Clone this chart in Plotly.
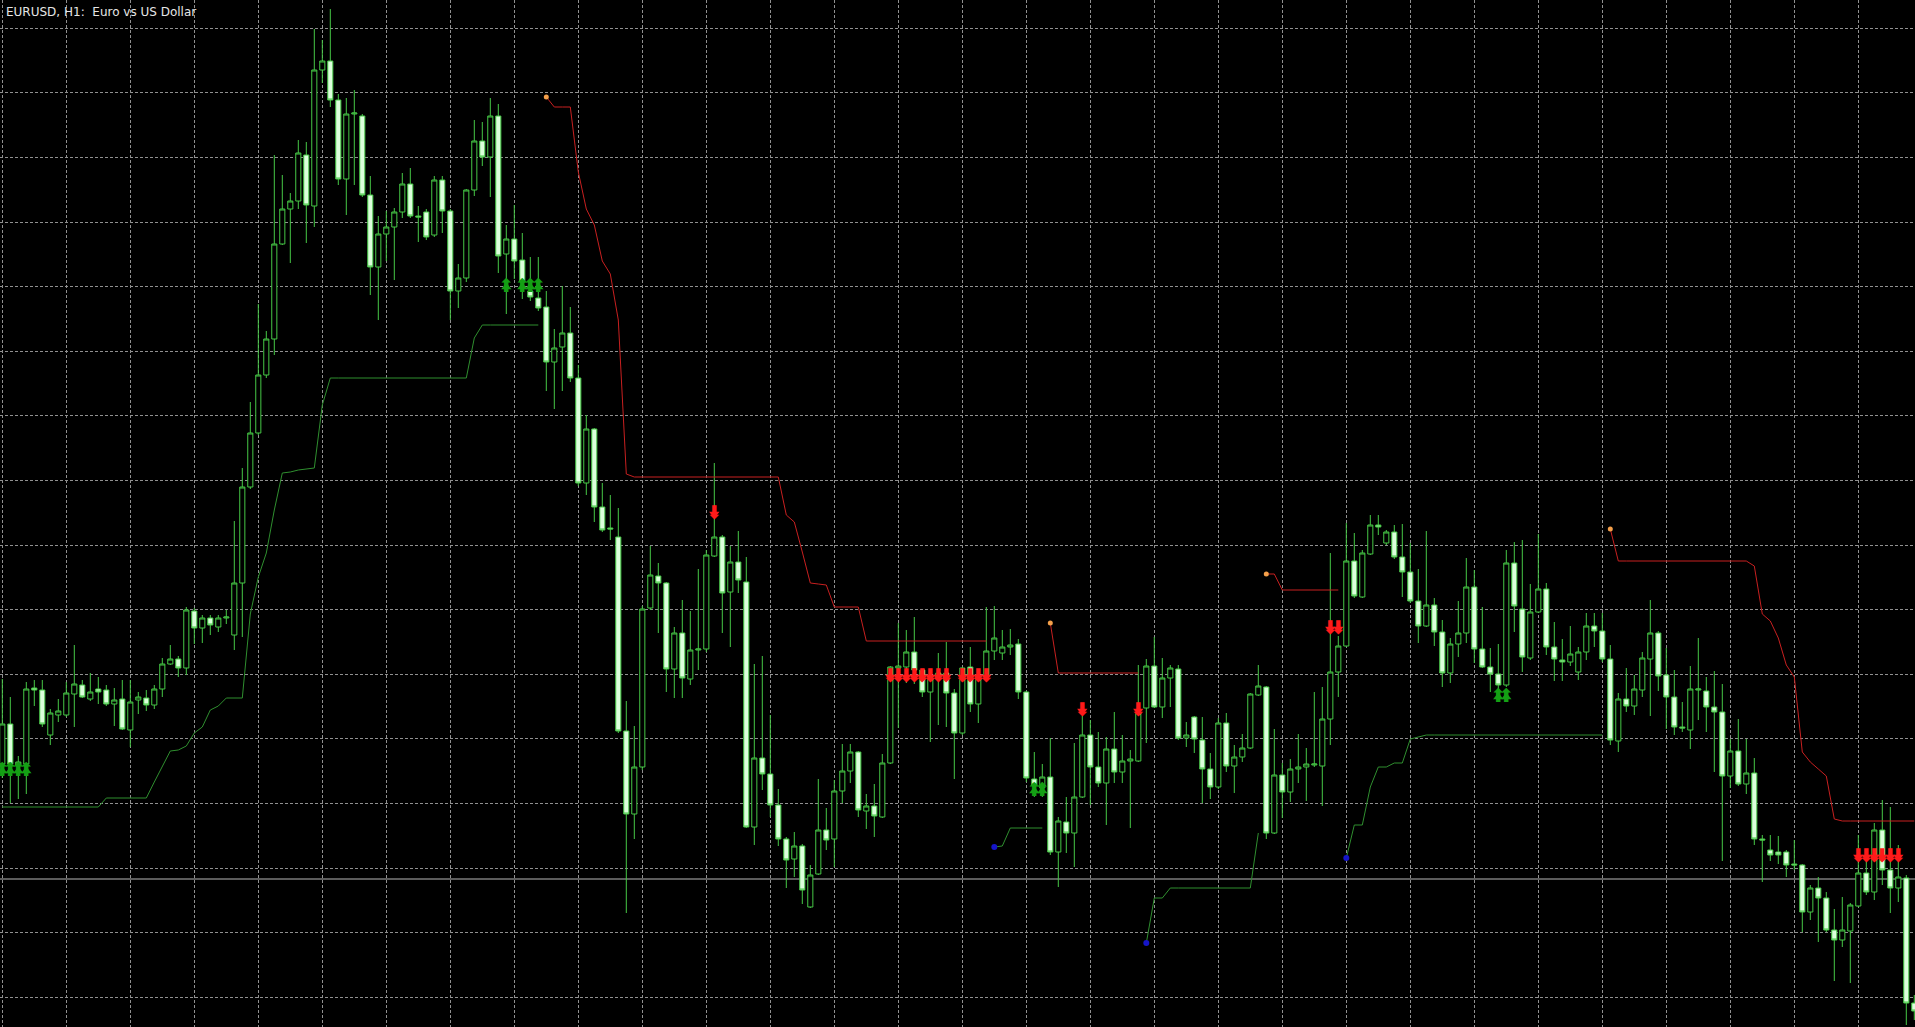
import plotly.graph_objects as go

# ---------------- data (EURUSD H1) ----------------
bars = list(range(240))

open_ = [
1.12236, 1.12276, 1.12235, 1.12236, 1.12312, 1.12310, 1.12265, 1.12285, 1.12285, 1.12306,
1.12315, 1.12301, 1.12311, 1.12310, 1.12296, 1.12301, 1.12270, 1.12300, 1.12302, 1.12295,
1.12311, 1.12336, 1.12341, 1.12332, 1.12389, 1.12372, 1.12382, 1.12373, 1.12382, 1.12365,
1.12417, 1.12513, 1.12567, 1.12625, 1.12661, 1.12756, 1.12791, 1.12799, 1.12845, 1.12794,
1.12930, 1.12939, 1.12900, 1.12821, 1.12886, 1.12884, 1.12805, 1.12733, 1.12766, 1.12773,
1.12788, 1.12816, 1.12784, 1.12788, 1.12765, 1.12820, 1.12789, 1.12709, 1.12722, 1.12810,
1.12859, 1.12843, 1.12884, 1.12746, 1.12761, 1.12740, 1.12709, 1.12702, 1.12693, 1.12638,
1.12653, 1.12667, 1.12622, 1.12517, 1.12571, 1.12493, 1.12472, 1.12463, 1.12269, 1.12186,
1.12233, 1.12392, 1.12424, 1.12417, 1.12331, 1.12367, 1.12321, 1.12350, 1.12351, 1.12444,
1.12463, 1.12408, 1.12438, 1.12418, 1.12173, 1.12242, 1.12226, 1.12195, 1.12161, 1.12141,
1.12154, 1.12093, 1.12126, 1.12170, 1.12161, 1.12209, 1.12229, 1.12248, 1.12189, 1.12194,
1.12183, 1.12237, 1.12332, 1.12333, 1.12348, 1.12330, 1.12308, 1.12322, 1.12327, 1.12307,
1.12267, 1.12333, 1.12296, 1.12323, 1.12349, 1.12347, 1.12353, 1.12356, 1.12308, 1.12221,
1.12212, 1.12223, 1.12148, 1.12178, 1.12167, 1.12203, 1.12265, 1.12233, 1.12217, 1.12251,
1.12228, 1.12239, 1.12239, 1.12292, 1.12334, 1.12293, 1.12322, 1.12331, 1.12262, 1.12283,
1.12260, 1.12231, 1.12213, 1.12277, 1.12234, 1.12243, 1.12252, 1.12305, 1.12313, 1.12167,
1.12225, 1.12208, 1.12231, 1.12233, 1.12235, 1.12234, 1.12281, 1.12328, 1.12354, 1.12439,
1.12403, 1.12446, 1.12475, 1.12457, 1.12468, 1.12443, 1.12428, 1.12399, 1.12374, 1.12395,
1.12368, 1.12327, 1.12356, 1.12367, 1.12413, 1.12351, 1.12333, 1.12326, 1.12315, 1.12437,
1.12391, 1.12342, 1.12388, 1.12411, 1.12353, 1.12340, 1.12338, 1.12328, 1.12348, 1.12374,
1.12369, 1.12341, 1.12259, 1.12301, 1.12294, 1.12310, 1.12341, 1.12367, 1.12325, 1.12303,
1.12273, 1.12270, 1.12310, 1.12309, 1.12293, 1.12288, 1.12224, 1.12249, 1.12216, 1.12227,
1.12161, 1.12150, 1.12148, 1.12148, 1.12136, 1.12135, 1.12088, 1.12112, 1.12102, 1.12070,
1.12060, 1.12069, 1.12094, 1.12127, 1.12108, 1.12170, 1.12130, 1.12112, 1.12122, 1.11997]

high = [
1.12321, 1.12303, 1.12244, 1.12318, 1.12320, 1.12320, 1.12291, 1.12301, 1.12318, 1.12355,
1.12320, 1.12327, 1.12323, 1.12315, 1.12312, 1.12320, 1.12320, 1.12308, 1.12310, 1.12315,
1.12342, 1.12355, 1.12344, 1.12393, 1.12392, 1.12385, 1.12385, 1.12385, 1.12390, 1.12479,
1.12532, 1.12598, 1.12696, 1.12669, 1.12845, 1.12825, 1.12807, 1.12860, 1.12858, 1.12971,
1.12960, 1.12991, 1.12906, 1.12902, 1.12910, 1.12886, 1.12824, 1.12784, 1.12789, 1.12792,
1.12827, 1.12832, 1.12794, 1.12791, 1.12824, 1.12824, 1.12791, 1.12736, 1.12811, 1.12880,
1.12878, 1.12902, 1.12896, 1.12775, 1.12795, 1.12767, 1.12743, 1.12743, 1.12709, 1.12671,
1.12714, 1.12693, 1.12635, 1.12585, 1.12572, 1.12517, 1.12505, 1.12492, 1.12299, 1.12274,
1.12394, 1.12454, 1.12437, 1.12418, 1.12373, 1.12400, 1.12389, 1.12431, 1.12450, 1.12537,
1.12465, 1.12454, 1.12469, 1.12443, 1.12336, 1.12344, 1.12285, 1.12211, 1.12163, 1.12168,
1.12156, 1.12135, 1.12221, 1.12192, 1.12220, 1.12256, 1.12256, 1.12249, 1.12206, 1.12216,
1.12246, 1.12334, 1.12377, 1.12370, 1.12383, 1.12331, 1.12330, 1.12347, 1.12358, 1.12311,
1.12333, 1.12353, 1.12328, 1.12393, 1.12394, 1.12370, 1.12371, 1.12361, 1.12309, 1.12248,
1.12236, 1.12262, 1.12183, 1.12203, 1.12257, 1.12284, 1.12280, 1.12268, 1.12263, 1.12288,
1.12265, 1.12250, 1.12335, 1.12341, 1.12363, 1.12342, 1.12335, 1.12335, 1.12278, 1.12284,
1.12283, 1.12247, 1.12282, 1.12287, 1.12255, 1.12266, 1.12307, 1.12335, 1.12314, 1.12271,
1.12237, 1.12241, 1.12266, 1.12252, 1.12308, 1.12313, 1.12447, 1.12364, 1.12477, 1.12467,
1.12450, 1.12485, 1.12485, 1.12470, 1.12475, 1.12476, 1.12457, 1.12431, 1.12469, 1.12402,
1.12380, 1.12362, 1.12399, 1.12442, 1.12430, 1.12393, 1.12352, 1.12356, 1.12450, 1.12458,
1.12460, 1.12416, 1.12466, 1.12417, 1.12378, 1.12361, 1.12374, 1.12353, 1.12387, 1.12387,
1.12387, 1.12355, 1.12307, 1.12332, 1.12325, 1.12348, 1.12400, 1.12369, 1.12352, 1.12330,
1.12298, 1.12334, 1.12362, 1.12323, 1.12329, 1.12316, 1.12261, 1.12281, 1.12261, 1.12242,
1.12165, 1.12165, 1.12164, 1.12150, 1.12160, 1.12136, 1.12115, 1.12123, 1.12108, 1.12091,
1.12103, 1.12097, 1.12165, 1.12142, 1.12177, 1.12200, 1.12193, 1.12155, 1.12125, 1.12005]

low = [
1.12222, 1.12197, 1.12201, 1.12206, 1.12294, 1.12273, 1.12255, 1.12278, 1.12283, 1.12273,
1.12302, 1.12299, 1.12296, 1.12294, 1.12274, 1.12270, 1.12253, 1.12286, 1.12289, 1.12291,
1.12303, 1.12335, 1.12323, 1.12325, 1.12356, 1.12357, 1.12365, 1.12368, 1.12376, 1.12350,
1.12363, 1.12511, 1.12565, 1.12622, 1.12645, 1.12755, 1.12737, 1.12791, 1.12757, 1.12773,
1.12917, 1.12893, 1.12815, 1.12785, 1.12815, 1.12803, 1.12705, 1.12680, 1.12739, 1.12720,
1.12782, 1.12782, 1.12758, 1.12760, 1.12763, 1.12767, 1.12680, 1.12692, 1.12718, 1.12804,
1.12834, 1.12803, 1.12727, 1.12686, 1.12721, 1.12701, 1.12699, 1.12689, 1.12609, 1.12591,
1.12609, 1.12618, 1.12514, 1.12505, 1.12478, 1.12468, 1.12460, 1.12267, 1.12087, 1.12161,
1.12230, 1.12390, 1.12367, 1.12308, 1.12302, 1.12302, 1.12315, 1.12330, 1.12348, 1.12443,
1.12367, 1.12353, 1.12407, 1.12172, 1.12155, 1.12210, 1.12183, 1.12154, 1.12112, 1.12123,
1.12096, 1.12092, 1.12125, 1.12150, 1.12133, 1.12197, 1.12217, 1.12183, 1.12171, 1.12163,
1.12182, 1.12236, 1.12272, 1.12317, 1.12316, 1.12303, 1.12258, 1.12275, 1.12273, 1.12221,
1.12265, 1.12288, 1.12277, 1.12322, 1.12340, 1.12340, 1.12345, 1.12301, 1.12218, 1.12203,
1.12203, 1.12145, 1.12113, 1.12147, 1.12133, 1.12202, 1.12195, 1.12213, 1.12175, 1.12217,
1.12217, 1.12172, 1.12238, 1.12257, 1.12292, 1.12282, 1.12293, 1.12260, 1.12253, 1.12247,
1.12197, 1.12201, 1.12211, 1.12228, 1.12207, 1.12238, 1.12251, 1.12304, 1.12161, 1.12166,
1.12182, 1.12198, 1.12217, 1.12199, 1.12233, 1.12194, 1.12255, 1.12303, 1.12353, 1.12402,
1.12402, 1.12445, 1.12465, 1.12455, 1.12441, 1.12403, 1.12397, 1.12357, 1.12373, 1.12354,
1.12313, 1.12317, 1.12343, 1.12357, 1.12337, 1.12332, 1.12308, 1.12305, 1.12313, 1.12368,
1.12328, 1.12340, 1.12387, 1.12345, 1.12319, 1.12319, 1.12334, 1.12320, 1.12340, 1.12353,
1.12338, 1.12255, 1.12248, 1.12288, 1.12285, 1.12303, 1.12284, 1.12309, 1.12271, 1.12265,
1.12268, 1.12251, 1.12280, 1.12268, 1.12228, 1.12139, 1.12212, 1.12214, 1.12206, 1.12155,
1.12118, 1.12139, 1.12136, 1.12123, 1.12130, 1.12068, 1.12080, 1.12058, 1.12068, 1.12019,
1.12053, 1.12017, 1.12093, 1.12105, 1.12100, 1.12115, 1.12087, 1.12098, 1.11975, 1.11980]

close = [
1.12276, 1.12236, 1.12238, 1.12311, 1.12310, 1.12276, 1.12287, 1.12289, 1.12307, 1.12316,
1.12303, 1.12308, 1.12308, 1.12296, 1.12300, 1.12271, 1.12298, 1.12303, 1.12295, 1.12311,
1.12336, 1.12341, 1.12332, 1.12390, 1.12372, 1.12382, 1.12375, 1.12382, 1.12383, 1.12417,
1.12513, 1.12567, 1.12625, 1.12661, 1.12756, 1.12791, 1.12799, 1.12847, 1.12795, 1.12930,
1.12939, 1.12900, 1.12821, 1.12886, 1.12887, 1.12805, 1.12733, 1.12766, 1.12773, 1.12788,
1.12816, 1.12784, 1.12783, 1.12763, 1.12820, 1.12789, 1.12709, 1.12722, 1.12810, 1.12859,
1.12843, 1.12884, 1.12744, 1.12761, 1.12739, 1.12718, 1.12703, 1.12692, 1.12638, 1.12652,
1.12667, 1.12622, 1.12517, 1.12571, 1.12493, 1.12470, 1.12471, 1.12269, 1.12186, 1.12233,
1.12391, 1.12425, 1.12417, 1.12331, 1.12367, 1.12322, 1.12350, 1.12351, 1.12445, 1.12463,
1.12407, 1.12438, 1.12420, 1.12173, 1.12242, 1.12226, 1.12195, 1.12161, 1.12140, 1.12154,
1.12110, 1.12125, 1.12170, 1.12160, 1.12209, 1.12229, 1.12248, 1.12190, 1.12194, 1.12184,
1.12237, 1.12333, 1.12334, 1.12348, 1.12330, 1.12308, 1.12322, 1.12327, 1.12307, 1.12267,
1.12332, 1.12296, 1.12323, 1.12349, 1.12362, 1.12353, 1.12355, 1.12308, 1.12222, 1.12215,
1.12223, 1.12148, 1.12179, 1.12167, 1.12203, 1.12265, 1.12233, 1.12217, 1.12251, 1.12228,
1.12239, 1.12241, 1.12287, 1.12334, 1.12293, 1.12322, 1.12332, 1.12262, 1.12265, 1.12261,
1.12231, 1.12213, 1.12277, 1.12234, 1.12243, 1.12252, 1.12306, 1.12314, 1.12167, 1.12225,
1.12208, 1.12231, 1.12233, 1.12236, 1.12236, 1.12281, 1.12328, 1.12354, 1.12439, 1.12404,
1.12447, 1.12475, 1.12473, 1.12468, 1.12443, 1.12428, 1.12399, 1.12374, 1.12395, 1.12368,
1.12327, 1.12356, 1.12367, 1.12413, 1.12351, 1.12333, 1.12326, 1.12315, 1.12437, 1.12394,
1.12343, 1.12388, 1.12411, 1.12353, 1.12341, 1.12338, 1.12346, 1.12348, 1.12374, 1.12369,
1.12341, 1.12260, 1.12301, 1.12294, 1.12311, 1.12342, 1.12367, 1.12324, 1.12303, 1.12273,
1.12272, 1.12311, 1.12311, 1.12293, 1.12288, 1.12224, 1.12249, 1.12216, 1.12227, 1.12161,
1.12160, 1.12145, 1.12145, 1.12135, 1.12135, 1.12088, 1.12112, 1.12102, 1.12070, 1.12060,
1.12070, 1.12095, 1.12127, 1.12108, 1.12170, 1.12130, 1.12112, 1.12123, 1.11997, 1.11989]

# trailing-stop support lines (green) and resistance lines (red)
sup1_x = list(range(0, 68))
sup1_y = [
1.12193, 1.12193, 1.12193, 1.12193, 1.12193, 1.12193, 1.12193, 1.12193, 1.12193, 1.12193,
1.12193, 1.12193, 1.12193, 1.12202, 1.12202, 1.12202, 1.12202, 1.12202, 1.12202, 1.12218,
1.12234, 1.12249, 1.12250, 1.12254, 1.12267, 1.12273, 1.12290, 1.12294, 1.12302, 1.12302,
1.12302, 1.12386, 1.12423, 1.12447, 1.12490, 1.12527, 1.12528, 1.12530, 1.12531, 1.12532,
1.12595, 1.12622, 1.12622, 1.12622, 1.12622, 1.12622, 1.12622, 1.12622, 1.12622, 1.12622,
1.12622, 1.12622, 1.12622, 1.12622, 1.12622, 1.12622, 1.12622, 1.12622, 1.12622, 1.12662,
1.12675, 1.12675, 1.12675, 1.12675, 1.12675, 1.12675, 1.12675, 1.12675]
sup2_x = list(range(124, 131))
sup2_y = [1.12153, 1.12154, 1.12172, 1.12172, 1.12172, 1.12172, 1.12172]
sup3_x = list(range(143, 158))
sup3_y = [1.12057, 1.12102, 1.12102, 1.12112, 1.12112, 1.12112, 1.12112, 1.12112, 1.12112,
          1.12112, 1.12112, 1.12112, 1.12112, 1.12112, 1.12167]
sup4_x = list(range(168, 201))
sup4_y = [1.12142, 1.12175, 1.12175, 1.12213, 1.12233, 1.12233, 1.12237, 1.12237, 1.12261, 1.12263,
          1.12265, 1.12265, 1.12265, 1.12265, 1.12265, 1.12265, 1.12265, 1.12265, 1.12265, 1.12265,
          1.12265, 1.12265, 1.12265, 1.12265, 1.12265, 1.12265, 1.12265, 1.12265, 1.12265, 1.12265,
          1.12265, 1.12265, 1.12265]

res1_x = list(range(68, 124))
res1_y = [
1.12903, 1.12893, 1.12893, 1.12893, 1.12828, 1.12791, 1.12775, 1.12739, 1.12726, 1.12680,
1.12526, 1.12523, 1.12523, 1.12523, 1.12523, 1.12523, 1.12523, 1.12523, 1.12523, 1.12523,
1.12523, 1.12523, 1.12523, 1.12523, 1.12523, 1.12523, 1.12523, 1.12523, 1.12523, 1.12523,
1.12485, 1.12478, 1.12448, 1.12417, 1.12416, 1.12415, 1.12393, 1.12393, 1.12393, 1.12393,
1.12359, 1.12359, 1.12359, 1.12359, 1.12359, 1.12359, 1.12359, 1.12359, 1.12359, 1.12359,
1.12359, 1.12359, 1.12359, 1.12359, 1.12359, 1.12359]
res2_x = list(range(131, 143))
res2_y = [1.12377, 1.12327, 1.12327, 1.12327, 1.12327, 1.12327, 1.12327, 1.12327, 1.12327,
          1.12327, 1.12327, 1.12327]
res3_x = list(range(158, 168))
res3_y = [1.12426, 1.12426, 1.12410, 1.12410, 1.12410, 1.12410, 1.12410, 1.12410, 1.12410, 1.12410]
res4_x = list(range(201, 240))
res4_y = [
1.12471, 1.12439, 1.12439, 1.12439, 1.12439, 1.12439, 1.12439, 1.12439, 1.12439, 1.12439,
1.12439, 1.12439, 1.12439, 1.12439, 1.12439, 1.12439, 1.12439, 1.12439, 1.12434, 1.12386,
1.12379, 1.12362, 1.12335, 1.12323, 1.12248, 1.12238, 1.12231, 1.12224, 1.12181, 1.12179,
1.12179, 1.12179, 1.12179, 1.12179, 1.12179, 1.12179, 1.12179, 1.12179, 1.12179]

# start dots of the trailing lines
orange_x = [68, 131, 158, 201]
orange_y = [1.12903, 1.12377, 1.12426, 1.12471]
blue_x = [124, 143, 168]
blue_y = [1.12153, 1.12057, 1.12142]

# signal arrows
up_x = [0, 1, 2, 3, 63, 65, 66, 67, 129, 130, 187, 188]
up_y = [1.12229, 1.12229, 1.12229, 1.12229, 1.12713, 1.12713, 1.12713, 1.12713,
        1.12209, 1.12209, 1.12303, 1.12303]
down_x = [89, 111, 112, 113, 114, 115, 116, 117, 118, 120, 121, 122, 123,
          135, 142, 166, 167, 232, 233, 234, 235, 236, 237]
down_y = [1.12486, 1.12323, 1.12323, 1.12323, 1.12323, 1.12323, 1.12323, 1.12323, 1.12323,
          1.12323, 1.12323, 1.12323, 1.12323, 1.12289, 1.12289, 1.12371, 1.12371,
          1.12143, 1.12143, 1.12143, 1.12143, 1.12143, 1.12143]

bid_level = 1.12121
title_text = "EURUSD, H1:\u00a0 Euro vs US Dollar"

# ---------------- styles ----------------
CANDLE = "#46c846"
BEAR_FILL = "#dcffdc"
SUP = "#2f8f2f"
RES = "#c82020"
GRID = "#909090"

fig = go.Figure()

fig.add_trace(go.Candlestick(
    x=bars, open=open_, high=high, low=low, close=close,
    increasing=dict(line=dict(color=CANDLE, width=1), fillcolor="#000000"),
    decreasing=dict(line=dict(color=CANDLE, width=1), fillcolor=BEAR_FILL),
    whiskerwidth=0, hoverinfo="skip", showlegend=False))

for xs, ys in [(sup1_x, sup1_y), (sup2_x, sup2_y), (sup3_x, sup3_y), (sup4_x, sup4_y)]:
    fig.add_trace(go.Scatter(x=xs, y=ys, mode="lines", line=dict(color=SUP, width=1),
                             hoverinfo="skip", showlegend=False))
for xs, ys in [(res1_x, res1_y), (res2_x, res2_y), (res3_x, res3_y), (res4_x, res4_y)]:
    fig.add_trace(go.Scatter(x=xs, y=ys, mode="lines", line=dict(color=RES, width=1),
                             hoverinfo="skip", showlegend=False))

fig.add_trace(go.Scatter(x=orange_x, y=orange_y, mode="markers",
                         marker=dict(color="#f5a04a", size=5), hoverinfo="skip", showlegend=False))
fig.add_trace(go.Scatter(x=blue_x, y=blue_y, mode="markers",
                         marker=dict(color="#1515c8", size=6), hoverinfo="skip", showlegend=False))

# MT4-style thick arrows (arrow glyph over an arrow-head marker)
fig.add_trace(go.Scatter(x=up_x, y=up_y, mode="markers+text", text=["\u2b06"] * len(up_x),
                         textposition="middle center",
                         textfont=dict(color="#14a014", size=19, family="DejaVu Sans"),
                         marker=dict(symbol="triangle-up", size=9, color="#14a014"),
                         hoverinfo="skip", showlegend=False))
fig.add_trace(go.Scatter(x=down_x, y=down_y, mode="markers+text", text=["\u2b07"] * len(down_x),
                         textposition="middle center",
                         textfont=dict(color="#ff1a1a", size=19, family="DejaVu Sans"),
                         marker=dict(symbol="triangle-down", size=9, color="#ff1a1a"),
                         hoverinfo="skip", showlegend=False))

fig.add_shape(type="line", xref="paper", x0=0, x1=1, yref="y", y0=bid_level, y1=bid_level,
              line=dict(color="#b8b8b8", width=1), layer="below")

fig.add_annotation(text=title_text, xref="paper", yref="paper", x=0, y=1,
                   xanchor="left", yanchor="top", xshift=4, yshift=-3, showarrow=False,
                   font=dict(family="DejaVu Sans", size=12, color="#e6e6e6"))

fig.update_layout(
    width=1915, height=1027,
    margin=dict(l=0, r=0, t=0, b=0),
    paper_bgcolor="#000000", plot_bgcolor="#000000",
    showlegend=False, boxgap=0.25, boxgroupgap=0.15,
    xaxis=dict(range=[-0.2875, 239.0875], tick0=0, dtick=8, showgrid=True,
               gridcolor=GRID, griddash="3px,2px", gridwidth=1, showticklabels=False,
               zeroline=False, showline=False, rangeslider=dict(visible=False), fixedrange=True),
    yaxis=dict(range=[1.11973, 1.13], tick0=1.129717, dtick=0.000646, showgrid=True,
               gridcolor=GRID, griddash="3px,2px", gridwidth=1, showticklabels=False,
               zeroline=False, showline=False, fixedrange=True),
)

fig.write_html("out.html", config={"displayModeBar": False},
               post_script="document.body.style.margin='0';document.body.style.overflow='hidden';")
